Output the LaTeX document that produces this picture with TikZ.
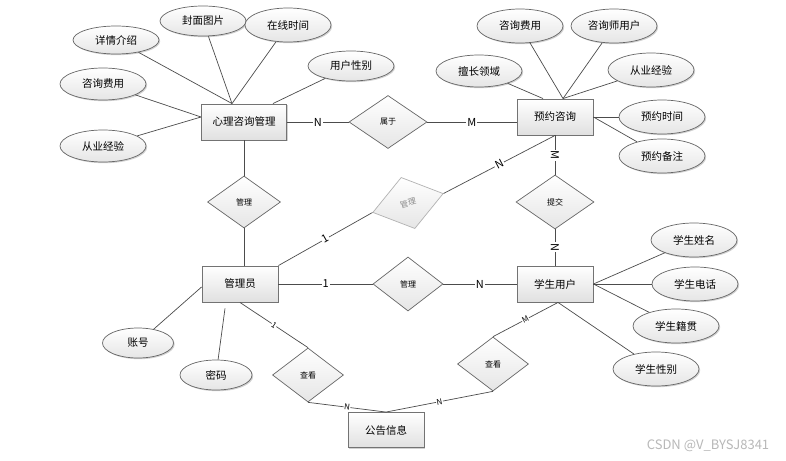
\documentclass[tikz,border=0pt]{standalone}
\usepackage{fontspec}
\newfontfamily\cjk{Noto Sans CJK SC}
\usetikzlibrary{calc,shapes.geometric,shadows}

\tikzset{%
    lien/.style={draw=black!70, line width=0.7pt},%
    ombre/.style={drop shadow={shadow xshift=1.2pt, shadow yshift=-1.2pt, fill=black!40, opacity=0.45}},%
    entite/.style={rectangle, draw=black!55, line width=0.9pt, top color=white, bottom color=black!12,%
        minimum width=76pt, minimum height=36pt, font=\cjk\fontsize{10.5}{12}\selectfont, ombre},%
    attribut/.style={ellipse, draw=black!60, line width=0.7pt, top color=white, bottom color=black!10,%
        minimum width=86pt, minimum height=34pt, inner sep=0pt, font=\cjk\fontsize{10.5}{12}\selectfont, ombre},%
    relation/.style={diamond, draw=black!60, line width=0.7pt, top color=white, bottom color=black!10,%
        minimum width=72pt, minimum height=54pt, inner sep=0pt, font=\cjk\fontsize{8}{9}\selectfont},%
    card/.style={fill=white, inner sep=1pt, font=\cjk\fontsize{11}{12}\selectfont},%
    cardp/.style={fill=white, inner sep=0.5pt, font=\cjk\fontsize{8}{9}\selectfont, sloped}%
}

\begin{document}
\begin{tikzpicture}[x=1pt,y=-1pt]
    \path[fill=white, use as bounding box] (0,0) rectangle (786,460);

    %
    % Définitions
    %
    \pgfmathsetmacro{\xg}{244};%
    \pgfmathsetmacro{\xm}{408};%
    \pgfmathsetmacro{\xd}{555};%
    \pgfmathsetmacro{\yh}{122};%
    \pgfmathsetmacro{\yr}{202};%
    \pgfmathsetmacro{\yb}{284};%

    % Entités
    \node[entite, minimum width=85pt] (xl) at (\xg,\yh) {心理咨询管理};
    \node[entite] (yy) at (\xd,117) {预约咨询};
    \node[entite] (gl) at (240,\yb) {管理员};
    \node[entite] (xs) at (\xd,\yb) {学生用户};
    \node[entite, minimum height=35pt] (gg) at (386,430) {公告信息};

    % Relations
    \node[relation, minimum width=78pt, minimum height=53pt] (sy) at (388,\yh) {属于};
    \node[relation, minimum width=73pt, minimum height=52pt] (gld) at (\xg,\yr) {管理};
    \node[relation, minimum width=78pt] (tj) at (\xd,\yr) {提交};
    \node[relation, minimum width=70pt] (glm) at (\xm,\yb) {管理};
    \node[relation, minimum width=71pt] (ck1) at (308,375) {查看};
    \node[relation, minimum width=71pt] (ck2) at (493,364) {查看};
    \node[relation, minimum width=73pt, minimum height=53pt, rotate=15,%
        draw=black!30, text=black!45] (gp) at (\xm,203) {管理};

    % Attributs du psychologue
    \node[attribut, minimum height=28pt] (xq) at (116,40) {详情介绍};
    \node[attribut, minimum height=30pt] (fm) at (203,21) {封面图片};
    \node[attribut] (zx) at (288,25) {在线时间};
    \node[attribut, minimum height=30pt] (yh) at (351,66) {用户性别};
    \node[attribut, minimum height=32pt] (fy) at (103,84) {咨询费用};
    \node[attribut, minimum height=32pt] (cy) at (103,146) {从业经验};

    % Attributs de la réservation
    \node[attribut] (fy2) at (520,26) {咨询费用};
    \node[attribut] (zs) at (614,26) {咨询师用户};
    \node[attribut, minimum height=32pt] (sc) at (479,71) {擅长领域};
    \node[attribut] (cy2) at (651,70) {从业经验};
    \node[attribut] (sj) at (662,117) {预约时间};
    \node[attribut] (bz) at (662,156) {预约备注};

    % Attributs de l'étudiant
    \node[attribut] (xm) at (694,240) {学生姓名};
    \node[attribut] (dh) at (695,284) {学生电话};
    \node[attribut] (jg) at (676,326) {学生籍贯};
    \node[attribut] (xb) at (656,369) {学生性别};

    % Attributs de l'administrateur
    \node[attribut, minimum width=71pt, minimum height=30pt] (zh) at (138,343) {账号};
    \node[attribut, minimum width=72pt, minimum height=30pt] (mm) at (216,375) {密码};

    % Points d'attache
    \coordinate (xlh) at ($(xl.north)+(-12,0)$);
    \coordinate (xlr) at ($(xl.north)+(29,0)$);
    \coordinate (xlg) at ($(xl.west)+(0,-5)$);
    \coordinate (yyh) at ($(yy.north)+(8,0)$);
    \coordinate (yyg) at ($(yy.north)+(-12,0)$);
    \coordinate (xsb) at ($(xs.south)+(3,0)$);
    \coordinate (glg) at ($(gl.west)+(0,3)$);
    \coordinate (glb) at ($(gl.south)+(-15,6)$);

    % Liens des attributs
    \draw[lien] (xq) -- (xlh);
    \draw[lien] (fm) -- (xlh);
    \draw[lien] (zx) -- (xlh);
    \draw[lien] (yh) -- (xlr);
    \draw[lien] (fy) -- (xlg);
    \draw[lien] (cy) -- (xlg);

    \draw[lien] (fy2) -- (yyh);
    \draw[lien] (zs) -- (yyh);
    \draw[lien] (cy2) -- (yyh);
    \draw[lien] (sc) -- (yyg);
    \draw[lien] (yy.east) -- (sj);
    \draw[lien] (yy.east) -- (bz);

    \draw[lien] (xs.east) -- (xm);
    \draw[lien] (xs.east) -- (dh);
    \draw[lien] (xs.east) -- (jg);
    \draw[lien] (xsb) -- (xb);

    \draw[lien] (zh) -- (glg);
    \draw[lien] (mm) -- (glb);

    % Liens des relations
    \draw[lien] (xl.east) -- node[card] {N} (sy.west);
    \draw[lien] (sy.east) -- node[card] {M} (sy.east -| yy.west);
    \draw[lien] (xl.south) -- (gld.north);
    \draw[lien] (gld.south) -- (gld.south |- gl.north);
    \draw[lien] (yy.south) -- node[card, rotate=-90] {M} (tj.north);
    \draw[lien] (tj.south) -- node[card, rotate=-90] {N} (xs.north);
    \draw[lien] (gl.east) -- node[card] {1} (glm.west);
    \draw[lien] (glm.east) -- node[card] {N} (xs.west);
    \draw[lien] (gl.north east) -- node[card, sloped] {1} (gp.west);
    \draw[lien] (gp.east) -- node[card, sloped] {N} (yy.south);
    \draw[lien] (gl.south) -- node[cardp] {1} (ck1.north);
    \draw[lien] (ck1.south) -- node[cardp] {N} (gg.north);
    \draw[lien] (xsb) -- node[cardp] {M} (ck2.north);
    \draw[lien] (ck2.south) -- node[cardp] {N} (gg.north);

    % Filigrane
    \node[font=\cjk\fontsize{13}{15}\selectfont, text=black!28] (wm) at (708,446) {CSDN @V\_BYSJ8341};

\end{tikzpicture}
\end{document}
